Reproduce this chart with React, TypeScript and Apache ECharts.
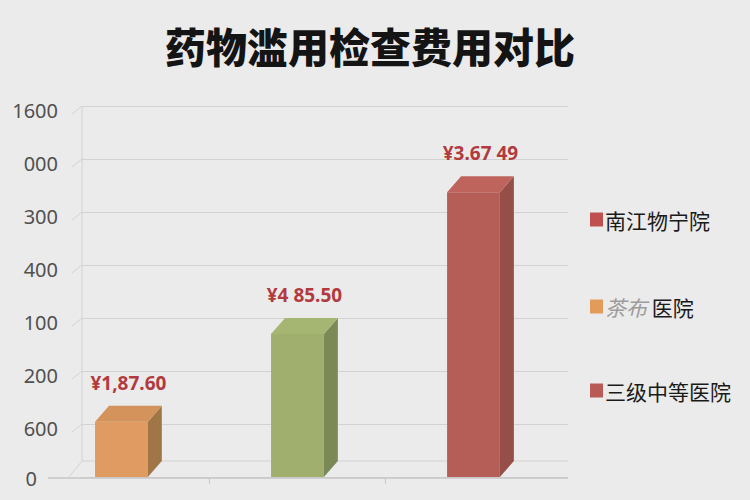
import React, { useEffect, useRef } from "react";
import * as echarts from "echarts";

// ---- data ----
const hospitals = ["茶布医院", "南江物宁院", "三级中等医院"];
const costs = [187.6, 485.5, 967.49];
const costLabels = ["¥1,87.60", "¥4 85.50", "¥3.67 49"];
const tickLabels = ["0", "600", "200", "100", "400", "300", "000", "1600"];
const legendNames = ["南江物宁院", "茶布", "三级中等医院"];
const legendSuffix = ["", " 医院", ""];
const titleText = "药物滥用检查费用对比";

// ---- styles ----
const STEP = 180;
const Y_MAX = STEP * 7;
const BAR_W = 0.3;
const DX = 14;
const DY = 16;
const barColors = [
  { front: "#e09b62", top: "#d3935a", side: "#a07646" },
  { front: "#a0af6e", top: "#a5b672", side: "#7a8955" },
  { front: "#b55e58", top: "#bf645d", side: "#964e48" },
];
const legendColors = ["#c0504d", "#e39b5a", "#b85a56"];
const GRID_COLOR = "#d2d2d2";
const TICK_COLOR = "#505050";

export default function App() {
  const ref = useRef<HTMLDivElement>(null);
  useEffect(() => {
    if (!ref.current) return;
    const chart = echarts.init(ref.current, undefined, { renderer: "svg" });
    const ticks = tickLabels.map((_, i) => i * STEP);
    const option: any = {
      animation: false,
      backgroundColor: "#ebebeb",
      title: {
        text: titleText,
        left: 160,
        top: 19,
        textStyle: {
          fontFamily: "Noto Sans CJK SC",
          fontWeight: 900,
          fontSize: 41,
          color: "#141414",
        },
      },
      grid: { left: 82, right: 182, top: 106, bottom: 23 },
      xAxis: {
        type: "value",
        min: -0.224,
        max: 2.537,
        show: false,
      },
      yAxis: {
        type: "value",
        min: 0,
        max: Y_MAX,
        interval: STEP,
        axisLine: { show: false },
        axisTick: { show: false },
        splitLine: { lineStyle: { color: GRID_COLOR, width: 1 } },
        axisLabel: {
          margin: 24,
          fontFamily: "Noto Sans",
          fontSize: 20,
          color: TICK_COLOR,
          verticalAlign: "top",
          lineHeight: 9,
          formatter: (v: number) => {
            const k = Math.round(v / STEP);
            return k === 0 ? "" : tickLabels[k] ?? "";
          },
        },
      },
      graphic: legendNames.map((name, i) => ({
        type: "group",
        left: 590,
        top: [209, 296, 380][i],
        children: [
          { type: "rect", shape: { x: 0, y: 2, width: 13, height: 14 }, style: { fill: legendColors[i] } },
          {
            type: "text",
            x: 15,
            y: 9,
            style: {
              text: i === 1 ? `{g|${name}}{b|${legendSuffix[i]}}` : name,
              fill: "#1a1a1a",
              font: '21px "Noto Sans CJK SC"',
              verticalAlign: "middle",
              rich: {
                g: { fill: "#9c9c9c", fontStyle: "italic", fontSize: 21, fontFamily: "Noto Sans CJK SC" },
                b: { fill: "#1a1a1a", fontSize: 21, fontFamily: "Noto Sans CJK SC" },
              },
            },
          },
        ],
      })),
      series: [
        {
          type: "custom",
          name: "decor",
          silent: true,
          data: ticks.map((t) => [0, t]),
          renderItem: (params: any, api: any) => {
            const v = api.value(1);
            const p = api.coord([-0.224, v]);
            const right = api.coord([2.537, v])[0];
            const children: any[] = [];
            if (v === 0) {
              const backY = p[1] - DY;
              children.push(
                { type: "line", shape: { x1: p[0] - 34, y1: p[1] + 1, x2: right, y2: p[1] + 1 }, style: { stroke: "#c6c6c6", lineWidth: 1.5 } },
                { type: "line", shape: { x1: p[0], y1: backY, x2: right, y2: backY }, style: { stroke: GRID_COLOR, lineWidth: 1 } },
                { type: "line", shape: { x1: p[0] - 14, y1: p[1] + 1, x2: p[0], y2: backY }, style: { stroke: GRID_COLOR, lineWidth: 1 } },
                {
                  type: "text",
                  x: p[0] - 45,
                  y: p[1] + 1,
                  style: { text: tickLabels[0], fill: TICK_COLOR, font: '20px "Noto Sans"', align: "right", verticalAlign: "middle" },
                },
              );
              [0.5, 1.5].forEach((xv) => {
                const q = api.coord([xv, 0]);
                children.push({ type: "line", shape: { x1: q[0], y1: q[1] + 1, x2: q[0], y2: q[1] + 7 }, style: { stroke: "#c6c6c6", lineWidth: 1 } });
              });
              const topP = api.coord([-0.224, Y_MAX]);
              children.push({ type: "line", shape: { x1: p[0], y1: topP[1], x2: p[0], y2: backY }, style: { stroke: GRID_COLOR, lineWidth: 1 } });
            } else {
              children.push({ type: "line", shape: { x1: p[0] - 10, y1: p[1] + 8, x2: p[0], y2: p[1] }, style: { stroke: GRID_COLOR, lineWidth: 1 } });
            }
            return { type: "group", children };
          },
        },
        {
          type: "custom",
          name: "费用",
          data: costs.map((c, i) => [i, c]),
          renderItem: (params: any, api: any) => {
            const idx = params.dataIndex;
            const i = api.value(0);
            const v = api.value(1);
            const top = api.coord([i, v]);
            const base = api.coord([i, 0]);
            const w = api.size([BAR_W, 0])[0];
            const l = top[0] - w / 2;
            const r = top[0] + w / 2;
            const t = top[1];
            const b = base[1];
            const c = barColors[idx];
            return {
              type: "group",
              children: [
                { type: "rect", shape: { x: l, y: t, width: w, height: b - t }, style: { fill: c.front } },
                { type: "polygon", shape: { points: [[r, t], [r + DX, t - DY], [r + DX, b - DY], [r, b]] }, style: { fill: c.side } },
                { type: "polygon", shape: { points: [[l, t], [l + DX, t - DY], [r + DX, t - DY], [r, t]] }, style: { fill: c.top } },
                {
                  type: "text",
                  x: top[0] + 7,
                  y: t - 39,
                  style: {
                    text: costLabels[idx],
                    fill: "#b23a3e",
                    font: 'bold 19px "Noto Sans"',
                    align: "center",
                    verticalAlign: "middle",
                  },
                },
              ],
            };
          },
        },
      ],
    };
    chart.setOption(option);
    return () => chart.dispose();
  }, []);
  return (
    <div
      ref={ref}
      style={{ position: "absolute", left: 0, top: 0, width: 750, height: 500 }}
    />
  );
}
